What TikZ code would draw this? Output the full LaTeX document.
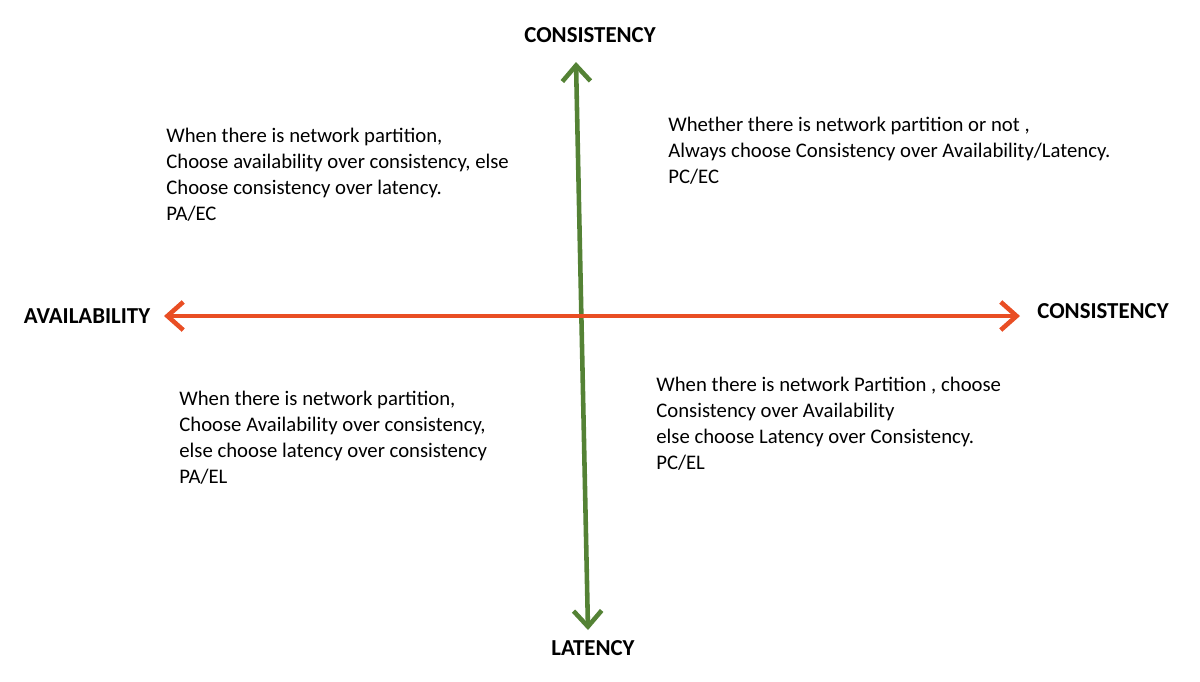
\documentclass[tikz,border=0pt]{standalone}
\usepackage{fontspec}
\setmainfont{Carlito}
\usetikzlibrary{arrows.meta}
\definecolor{axisgreen}{RGB}{84,130,53}
\definecolor{axisred}{RGB}{233,78,36}
\begin{document}
\begin{tikzpicture}[
x=0.02cm,
y=-0.02cm,
axislabel/.style={font=\fontsize{13pt}{15pt}\selectfont\bfseries},
quadtext/.style={anchor=north west, align=left, inner sep=0pt,
	font=\fontsize{11.8pt}{14.8pt}\selectfont},
barb/.style={line width=2.6pt, {Straight Barb[length=9pt,width=16pt]}-{Straight Barb[length=9pt,width=16pt]}},
]

	%%%%%%%%%%%%%%%%
	%Rahmen
	%%%%%%%%%%%%%%%%
	\useasboundingbox (0,0) rectangle (1200,681);

	% Achsen
	\coordinate (top) at (576,62);
	\coordinate (bottom) at (588,630);
	\coordinate (left) at (164,316);
	\coordinate (right) at (1020,316);
	\draw [barb, axisgreen] (top) -- (bottom);
	\draw [barb, axisred] (left) -- (right);

	\node [axislabel] (ctop) at (590,35) {CONSISTENCY};
	\node [axislabel] (avail) at (87,316) {AVAILABILITY};
	\node [axislabel] (cright) at (1103,311) {CONSISTENCY};
	\node [axislabel] (lat) at (593,648) {LATENCY};

	% Quadranten
	\node [quadtext] (paec) at (166,128) {When there is network partition,\\
		Choose availability over consistency, else\\
		Choose consistency over latency.\\
		PA/EC};
	\node [quadtext] (pcec) at (668,117) {Whether there is network partition or not ,\\
		Always choose Consistency over Availability/Latency.\\
		PC/EC};
	\node [quadtext] (pael) at (179,391) {When there is network partition,\\
		Choose Availability over consistency,\\
		else choose latency over consistency\\
		PA/EL};
	\node [quadtext] (pcel) at (656,377) {When there is network Partition , choose\\
		Consistency over Availability\\
		else choose Latency over Consistency.\\
		PC/EL};

\end{tikzpicture}
\end{document}
